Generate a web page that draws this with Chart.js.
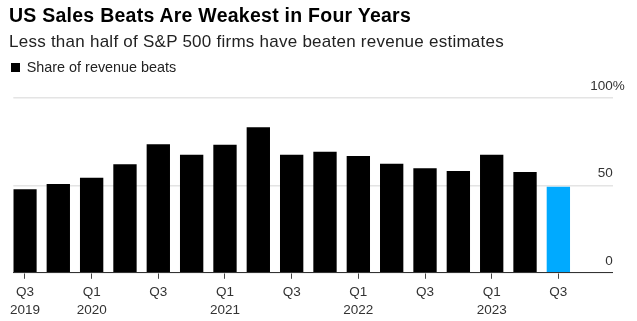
<!DOCTYPE html>
<html>
<head>
<meta charset="utf-8">
<script src="https://cdn.jsdelivr.net/npm/chart.js@4.4.1/dist/chart.umd.min.js"></script>
<style>
  html, body { margin: 0; padding: 0; background: #fff; }
  body { width: 637px; height: 321px; position: relative; overflow: hidden; font-family: 'Liberation Sans', Arial, sans-serif; }
  .title { position: absolute; left: 9px; top: 6.2px; font-size: 19.5px; line-height: 1; font-weight: bold; color: #000; letter-spacing: 0.25px; white-space: nowrap; }
  .subtitle { position: absolute; left: 9px; top: 33.3px; font-size: 17px; line-height: 1; color: #222; letter-spacing: 0.25px; white-space: nowrap; }
  .legend { position: absolute; left: 26.7px; top: 59.5px; font-size: 14.4px; line-height: 1; color: #222; white-space: nowrap; }
  .legend-box { position: absolute; left: 11px; top: 63px; width: 9px; height: 9px; background: #000; }
  #chart { position: absolute; left: 0; top: 0; }
</style>
</head>
<body>
<canvas id="chart" width="637" height="321"></canvas>
<div class="title">US Sales Beats Are Weakest in Four Years</div>
<div class="subtitle">Less than half of S&amp;P 500 firms have beaten revenue estimates</div>
<div class="legend-box"></div>
<div class="legend">Share of revenue beats</div>
<script>
// Share of S&P 500 firms beating revenue estimates, Q3 2019 .. Q3 2023
const quarters = ['Q3 2019', 'Q4 2019', 'Q1 2020', 'Q2 2020', 'Q3 2020', 'Q4 2020',
  'Q1 2021', 'Q2 2021', 'Q3 2021', 'Q4 2021', 'Q1 2022', 'Q2 2022', 'Q3 2022',
  'Q4 2022', 'Q1 2023', 'Q2 2023', 'Q3 2023'];
const beatShare = [47.7, 50.7, 54.3, 62.0, 73.4, 67.4, 73.2, 83.1, 67.4, 69.2,
  66.7, 62.3, 59.7, 58.1, 67.4, 57.6, 49.2];

// x tick labels, every other quarter
const xTickPositions = [0, 2, 4, 6, 8, 10, 12, 14, 16];
const xTickQuarters = ['Q3', 'Q1', 'Q3', 'Q1', 'Q3', 'Q1', 'Q3', 'Q1', 'Q3'];
const xTickYears = ['2019', '2020', '', '2021', '', '2022', '', '2023', ''];

const yTickValues = [0, 50, 100];
const yTickLabels = ['0', '50', '100'];
const yTickSuffix = ['', '', '%'];

const barColors = beatShare.map((v, i) => i === beatShare.length - 1 ? '#00aaff' : '#000000');

Chart.defaults.font.family = "'Liberation Sans', Arial, sans-serif";

// right-side y labels sit just above their gridlines, "%" hangs past the edge
const yLabelsPlugin = {
  id: 'yLabels',
  afterDraw(chart) {
    const ctx = chart.ctx;
    const y = chart.scales.y;
    const right = chart.chartArea.right;
    ctx.save();
    ctx.font = "13.5px 'Liberation Sans', Arial, sans-serif";
    ctx.fillStyle = '#333';
    ctx.textBaseline = 'alphabetic';
    yTickValues.forEach((v, i) => {
      const py = y.getPixelForValue(v) - 8;
      ctx.textAlign = 'right';
      ctx.fillText(yTickLabels[i], right, py);
      if (yTickSuffix[i]) {
        ctx.textAlign = 'left';
        ctx.fillText(yTickSuffix[i], right, py);
      }
    });
    ctx.restore();
  }
};

new Chart(document.getElementById('chart'), {
  type: 'bar',
  data: {
    datasets: [{
      label: 'Share of revenue beats',
      data: beatShare.map((v, i) => ({ x: i, y: v })),
      backgroundColor: barColors,
      borderWidth: 0,
      barPercentage: 0.7,
      categoryPercentage: 1
    }]
  },
  plugins: [yLabelsPlugin],
  options: {
    responsive: false,
    devicePixelRatio: 1,
    animation: false,
    layout: {
      padding: { left: 13.3, right: 24.3, top: 97.7, bottom: 0 }
    },
    plugins: {
      legend: { display: false },
      tooltip: { enabled: false },
      title: { display: false }
    },
    scales: {
      x: {
        type: 'linear',
        min: -0.35,
        max: 17.63,
        offset: false,
        z: 1,
        afterBuildTicks: scale => {
          scale.ticks = xTickPositions.map(v => ({ value: v }));
        },
        afterFit: scale => {
          scale.height = 48.2;
        },
        ticks: {
          autoSkip: false,
          maxRotation: 0,
          padding: 4,
          color: '#333',
          font: { size: 13.5, lineHeight: 1.356 },
          callback: function(value) {
            const idx = xTickPositions.indexOf(value);
            if (idx < 0) return '';
            return [xTickQuarters[idx], xTickYears[idx]];
          }
        },
        grid: {
          offset: false,
          drawOnChartArea: false,
          drawTicks: true,
          tickLength: 6,
          color: '#444'
        },
        border: { display: true, color: '#333', width: 1 }
      },
      y: {
        position: 'right',
        min: 0,
        max: 100,
        afterBuildTicks: scale => {
          scale.ticks = yTickValues.map(v => ({ value: v }));
        },
        afterFit: scale => {
          scale.width = 0;
        },
        ticks: { display: false },
        grid: {
          color: '#e4e4e4',
          lineWidth: 1.5,
          drawTicks: false
        },
        border: { display: false }
      }
    }
  }
});
</script>
</body>
</html>
